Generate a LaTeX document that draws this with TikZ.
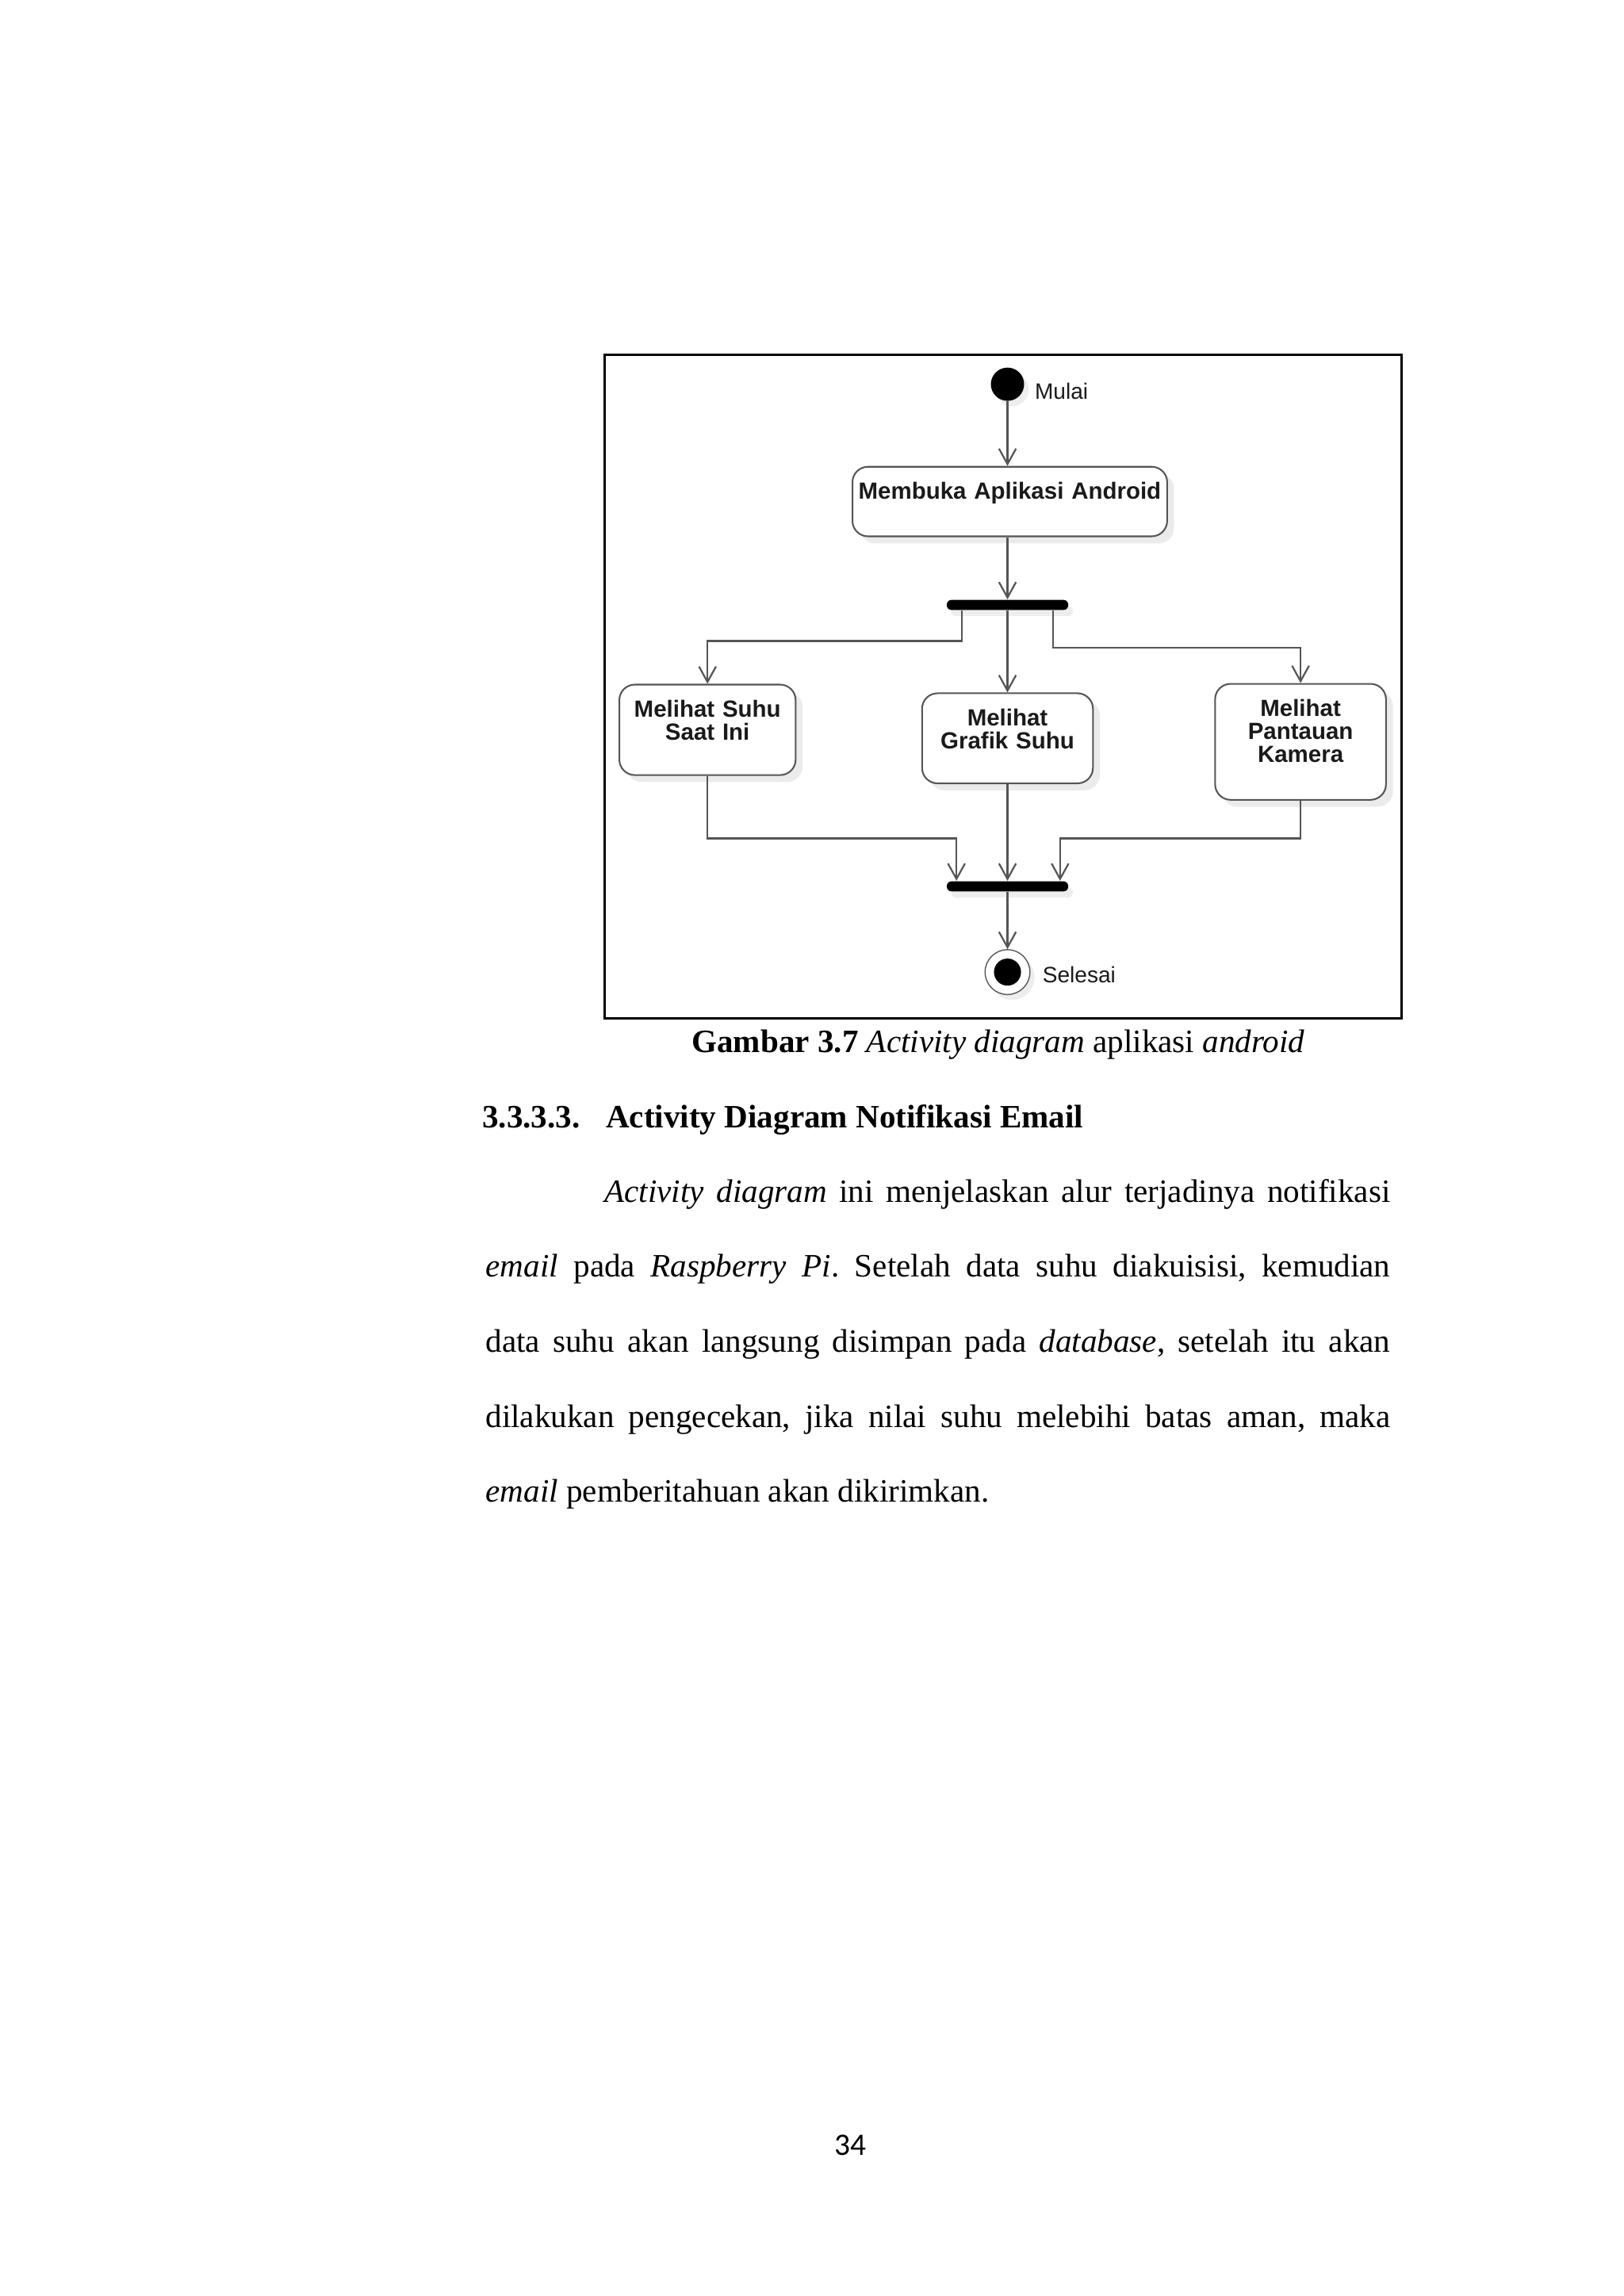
\documentclass[tikz,border=0pt]{standalone}
\usepackage{fontspec}
\setmainfont{Liberation Serif}
\newfontfamily\umlfont{Liberation Sans}
\newfontfamily\pagefont{Carlito}
\usetikzlibrary{arrows.meta,positioning,shadows,calc}
\definecolor{umlline}{HTML}{555555}
\definecolor{umltext}{HTML}{1A1A1A}
\tikzset{
  node distance=1.2cm,
  activity/.style={draw=umlline, line width=0.6pt, fill=white, rounded corners=2mm,
    inner xsep=0.5mm, inner ysep=1mm, text height=3.2mm, align=center, text=umltext,
    font=\umlfont\bfseries\fontsize{8.6}{8.5}\selectfont,
    drop shadow={shadow xshift=0.9mm, shadow yshift=-0.9mm, fill=black!8, opacity=1}},
  bar/.style={fill=black, minimum width=15.7mm, minimum height=1.3mm, inner sep=0pt,
    rounded corners=0.6mm,
    drop shadow={shadow xshift=0.6mm, shadow yshift=-0.8mm, fill=black!7, opacity=1}},
  initial/.style={circle, fill=black, minimum size=4.3mm, inner sep=0pt,
    drop shadow={shadow xshift=0.6mm, shadow yshift=-0.7mm, fill=black!7, opacity=1}},
  final/.style={circle, draw=umlline, line width=0.4pt, fill=white, minimum size=5.8mm, inner sep=0pt,
    drop shadow={shadow xshift=0.6mm, shadow yshift=-0.7mm, fill=black!7, opacity=1},
    path picture={\fill[black] (path picture bounding box.center) circle (1.75mm);}},
  umllabel/.style={inner sep=0pt, text=umltext, font=\umlfont\fontsize{8.2}{9}\selectfont},
  flow/.style={draw=umlline, line width=0.65pt}
}

\begin{document}
\begin{tikzpicture}[x=1mm,y=1mm]
  \useasboundingbox (0,0) rectangle (210,-297);
  % figure frame
  \draw[line width=0.8pt] (78.2,-45.9) rectangle (181.3,-131.75);

  \begin{scope}
    \node[initial] (start) at (130.3,-49.7) {};
    \node[umllabel, anchor=base west] (mulai) at ([xshift=1.25mm,yshift=-1.9mm]start.east) {Mulai};
    \node[activity, text width=39.7mm, text depth=3.8mm, below=8.35mm of start, xshift=0.3mm] (membuka) {Membuka Aplikasi Android};
    \node[bar, below=8.05mm of membuka, xshift=-0.3mm] (fork) {};

    \node[activity, text width=21.1mm, text depth=6.45mm, below=10.6mm of fork] (grafik) {Melihat\\Grafik Suhu};
    \node[activity, text width=21.8mm, text depth=6.5mm, anchor=north] (suhu) at (91.5,-88.45) {Melihat Suhu\\Saat Ini};
    \node[activity, text width=21.1mm, text depth=9.8mm, anchor=north] (kamera) at (168.2,-88.35) {Melihat\\Pantauan\\Kamera};

    \node[bar, below=12.5mm of grafik] (join) {};
    \node[final, below=7.4mm of join] (end) {};
    \node[umllabel, anchor=base west] (selesai) at ([xshift=1.5mm,yshift=-1.4mm]end.east) {Selesai};
  \end{scope}

  \begin{scope}[>={Straight Barb[length=2mm,width=2.2mm]},
                every edge/.style={flow}]
    \path [->] (start) edge (start |- membuka.north);
    \path [->] (start |- membuka.south) edge (fork);
    \path [->] (fork) edge (grafik);
    \draw [->, flow] ([xshift=-5.9mm]fork.south) -- ++(0,-3.95) -| (suhu.north);
    \draw [->, flow] ([xshift=5.9mm]fork.south) -- ++(0,-4.85) -| (kamera.north);

    \path [->] (grafik) edge (join);
    \draw [->, flow] (suhu.south) -- ++(0,-8.1) -| ([xshift=-6.6mm]join.north);
    \draw [->, flow] (kamera.south) -- ++(0,-4.9) -| ([xshift=6.8mm]join.north);
    \path [->] (join) edge (end);
  \end{scope}

  % caption and body text
  \node[anchor=base west, inner sep=0pt, font=\fontsize{12}{14}\selectfont] (caption) at (89.4,-136.1)
    {\textbf{Gambar 3.7} \textit{Activity diagram} aplikasi \textit{android}};
  \node[anchor=base west, inner sep=0pt, font=\fontsize{12}{14}\selectfont\bfseries] (heading) at (62.3,-145.9)
    {\makebox[16mm][l]{3.3.3.3.}Activity Diagram Notifikasi Email};
  \node[anchor=base west, inner sep=0pt, text width=117mm, align=justify,
        font=\fontsize{12}{27.6}\selectfont] (para) at (62.75,-155.5)
    {\frenchspacing\tolerance=9999\hyphenpenalty=10000\hspace*{15.35mm}\textit{Activity diagram} ini menjelaskan alur terjadinya notifikasi\linebreak
     \textit{email} pada \textit{Raspberry Pi}. Setelah data suhu diakuisisi, kemudian\linebreak
     data suhu akan langsung disimpan pada \textit{database}, setelah itu akan\linebreak
     dilakukan pengecekan, jika nilai suhu melebihi batas aman, maka\linebreak
     \textit{email} pemberitahuan akan dikirimkan.};
  \node[anchor=base, inner sep=0pt, font=\pagefont\fontsize{11.5}{13}\selectfont] (pagenum) at (110.0,-278.8) {34};
\end{tikzpicture}
\end{document}
